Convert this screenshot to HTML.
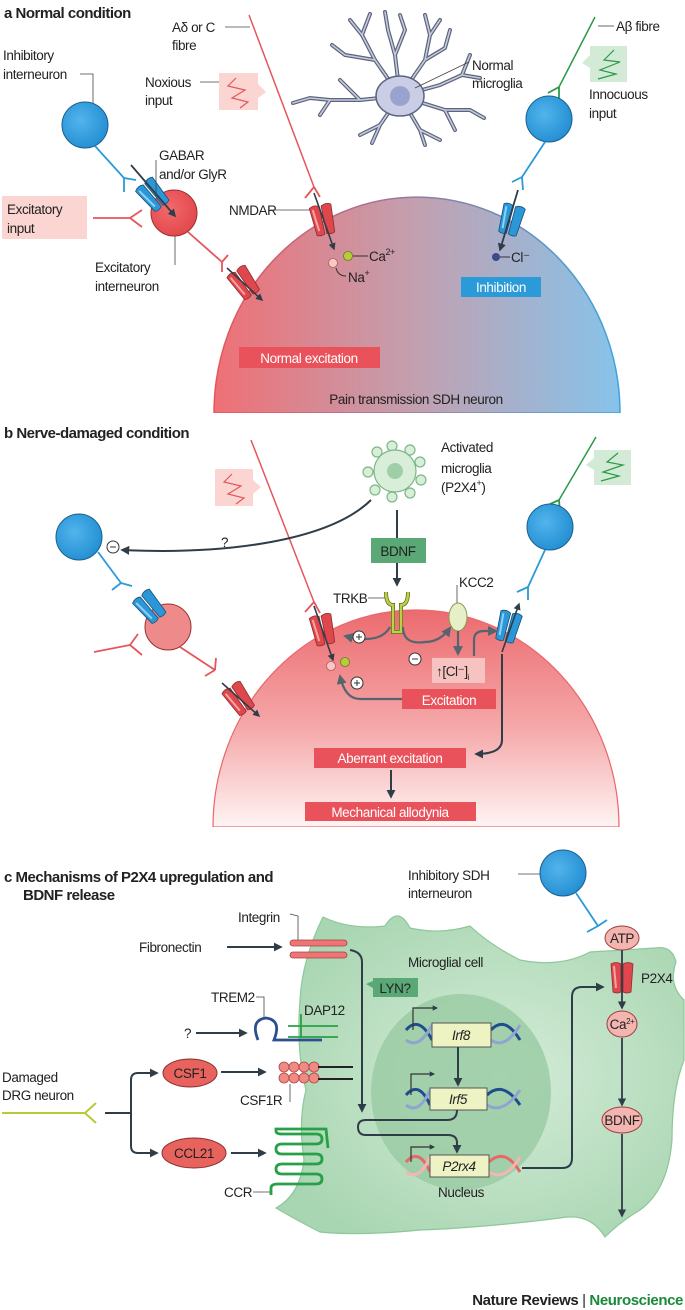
<!DOCTYPE html>
<html><head><meta charset="utf-8"><style>
html,body{margin:0;padding:0;background:#fff;}
svg{display:block;}
text{font-family:"Liberation Sans Narrow","Liberation Sans",sans-serif;font-size:13.5px;letter-spacing:-0.4px;fill:#222;}
.t{font-weight:bold;font-size:15px;letter-spacing:-0.5px;}
.w{fill:#fff;}
</style></head><body>
<svg width="685" height="1310" viewBox="0 0 685 1310" xmlns="http://www.w3.org/2000/svg">
<defs>
<marker id="ah" viewBox="0 0 10 10" refX="8" refY="5" markerWidth="4.5" markerHeight="4.5" orient="auto"><path d="M0,0 L10,5 L0,10 z" fill="#2f3d48"/></marker>
<marker id="ag" viewBox="0 0 10 10" refX="8" refY="5" markerWidth="4.5" markerHeight="4.5" orient="auto"><path d="M0,0 L10,5 L0,10 z" fill="#55656f"/></marker>
<linearGradient id="ga" x1="0" x2="1" y1="0" y2="0"><stop offset="0" stop-color="#ee7075"/><stop offset="0.5" stop-color="#c2a0b0"/><stop offset="1" stop-color="#86c3ea"/></linearGradient>
<linearGradient id="gas" x1="0" x2="1" y1="0" y2="0"><stop offset="0" stop-color="#e5565c"/><stop offset="1" stop-color="#3fa3dd"/></linearGradient>
<linearGradient id="gb" x1="0" x2="0" y1="0" y2="1"><stop offset="0" stop-color="#ec6b6f"/><stop offset="0.55" stop-color="#f5a9aa"/><stop offset="1" stop-color="#fff4f4"/></linearGradient>
<radialGradient id="gc" cx="0.55" cy="0.5" r="0.6"><stop offset="0" stop-color="#d5ecd8"/><stop offset="1" stop-color="#a9d6b2"/></radialGradient>
<radialGradient id="bl" cx="0.4" cy="0.4" r="0.7"><stop offset="0" stop-color="#52b4ec"/><stop offset="1" stop-color="#1e8bd0"/></radialGradient>
<radialGradient id="rd" cx="0.4" cy="0.4" r="0.7"><stop offset="0" stop-color="#f26a6c"/><stop offset="1" stop-color="#e04448"/></radialGradient>
<g id="chR"><path d="M-11,-14 Q-6,-17 -1,-14 L-1,14 Q-5,16 -9,14 Q-10,0 -11,-14z" fill="#e0474c" stroke="#8a2d30" stroke-width="0.8"/><path d="M11,-14 Q6,-17 1,-14 L1,14 Q5,16 9,14 Q10,0 11,-14z" fill="#e0474c" stroke="#8a2d30" stroke-width="0.8"/><path d="M-8,-12 L-6,10" stroke="#f7a3a3" stroke-width="2"/></g>
<g id="chB"><path d="M-11,-14 Q-6,-17 -1,-14 L-1,14 Q-5,16 -9,14 Q-10,0 -11,-14z" fill="#2a98d8" stroke="#1b4f78" stroke-width="0.8"/><path d="M11,-14 Q6,-17 1,-14 L1,14 Q5,16 9,14 Q10,0 11,-14z" fill="#2a98d8" stroke="#1b4f78" stroke-width="0.8"/><path d="M-8,-12 L-6,10" stroke="#8fd0f5" stroke-width="2"/></g>
</defs>

<!-- ===== PANEL A ===== -->
<text x="4" y="18" class="t">a  Normal condition</text>
<path d="M214,413 A203,216 0 0 1 620,413 Z" fill="url(#ga)" stroke="url(#gas)" stroke-width="1.5"/>
<rect x="210" y="413" width="415" height="6" fill="#fff"/>
<text x="416" y="404" text-anchor="middle">Pain transmission SDH neuron</text>
<rect x="239" y="347" width="141" height="21" fill="#e9525a"/>
<text x="309" y="363" text-anchor="middle" class="w">Normal excitation</text>
<rect x="461" y="277" width="80" height="20" fill="#2a9ad8"/>
<text x="501" y="292" text-anchor="middle" class="w">Inhibition</text>

<path d="M249,15 L314,187" stroke="#e5565c" stroke-width="1.5" fill="none"/>
<path d="M314,187 L305,198 M314,187 L320,197" stroke="#e5565c" stroke-width="1.8" fill="none"/>
<text x="172" y="32">Aδ or C</text><text x="172" y="50">fibre</text>
<path d="M225,27 L250,27" stroke="#444" stroke-width="0.8"/>
<rect x="219" y="73" width="39" height="37" fill="#fbd5d2"/><path d="M258,84 L266,92 L258,98z" fill="#fbd5d2"/>
<path d="M236,78 L228,86 L245,90 L232,98 L248,102 L240,108" stroke="#e5565c" stroke-width="1.2" fill="none"/>
<text x="145" y="87">Noxious</text><text x="145" y="105">input</text>
<path d="M200,82 L219,82" stroke="#444" stroke-width="0.8"/>

<g stroke="#5b647c" stroke-width="4" fill="none" stroke-linecap="round">
<path d="M400,96 L375,60 L362,35 L350,20 M362,35 L370,14 M375,60 L345,55 L332,45"/>
<path d="M400,96 L395,55 L388,30 L385,12 M395,55 L405,30 L400,15"/>
<path d="M400,96 L425,60 L430,35 L440,20 M430,35 L425,15 M425,60 L445,48 L450,30"/>
<path d="M400,96 L440,85 L462,75 L470,55 M462,75 L480,78"/>
<path d="M400,96 L445,110 L470,110 L484,118 M445,110 L455,130"/>
<path d="M400,96 L420,130 L425,145 M420,130 L440,140"/>
<path d="M400,96 L380,125 L372,143 M380,125 L360,135"/>
<path d="M400,96 L360,100 L330,100 L310,98 L293,103 M330,100 L320,115 M360,100 L340,80"/>
</g>
<g stroke="#c5cadd" stroke-width="1.6" fill="none" stroke-linecap="round">
<path d="M400,96 L375,60 L362,35 L350,20 M362,35 L370,14 M375,60 L345,55 L332,45"/>
<path d="M400,96 L395,55 L388,30 L385,12 M395,55 L405,30 L400,15"/>
<path d="M400,96 L425,60 L430,35 L440,20 M430,35 L425,15 M425,60 L445,48 L450,30"/>
<path d="M400,96 L440,85 L462,75 L470,55 M462,75 L480,78"/>
<path d="M400,96 L445,110 L470,110 L484,118 M445,110 L455,130"/>
<path d="M400,96 L420,130 L425,145 M420,130 L440,140"/>
<path d="M400,96 L380,125 L372,143 M380,125 L360,135"/>
<path d="M400,96 L360,100 L330,100 L310,98 L293,103 M330,100 L320,115 M360,100 L340,80"/>
</g>
<ellipse cx="400" cy="96" rx="24" ry="20" fill="#c9cde6" stroke="#5b647c" stroke-width="1.5"/>
<circle cx="400" cy="96" r="10" fill="#9aa3cf"/>
<text x="472" y="70">Normal</text><text x="472" y="88">microglia</text>
<path d="M415,88 L469,62" stroke="#444" stroke-width="0.8"/>

<path d="M595,17 L559,87" stroke="#2a9a48" stroke-width="1.5"/>
<path d="M559,87 L548,93 M559,87 L559,99" stroke="#2a9a48" stroke-width="1.8"/>
<text x="616" y="31">Aβ fibre</text><path d="M598,26 L614,26" stroke="#444" stroke-width="0.8"/>
<rect x="590" y="46" width="37" height="36" fill="#d3ebd6"/><path d="M590,55 L582,63 L590,68z" fill="#d3ebd6"/>
<path d="M614,50 L604,60 L620,62 L600,70 L616,74 L598,79" stroke="#2a9a48" stroke-width="1.2" fill="none"/>
<text x="589" y="99">Innocuous</text><text x="589" y="118">input</text>

<circle cx="549" cy="119" r="23" fill="url(#bl)" stroke="#1b5f8f" stroke-width="1"/>
<path d="M545,142 L522,177" stroke="#2a9ad8" stroke-width="1.8"/>
<path d="M522,177 L512,182 M522,177 L523,190" stroke="#2a9ad8" stroke-width="1.8"/>
<use href="#chB" transform="translate(511,220) rotate(15)"/>
<path d="M518,190 L500,250" stroke="#2f3d48" stroke-width="1.8" marker-end="url(#ah)"/>
<circle cx="496" cy="257" r="4" fill="#3a4a8a"/><path d="M500,257 L510,257" stroke="#333"/>
<text x="511" y="262">Cl⁻</text>

<text x="3" y="60">Inhibitory</text><text x="3" y="79">interneuron</text>
<path d="M80,74 L93,74 L93,112" stroke="#444" stroke-width="0.8" fill="none"/>
<circle cx="85" cy="125" r="23" fill="url(#bl)" stroke="#1b5f8f" stroke-width="1"/>
<path d="M95,146 L124,178" stroke="#2a9ad8" stroke-width="1.8"/>
<path d="M124,178 L124,192 M124,178 L136,180" stroke="#2a9ad8" stroke-width="1.8"/>
<circle cx="174" cy="213" r="23" fill="url(#rd)" stroke="#9a3033" stroke-width="1"/>
<use href="#chB" transform="translate(153,195) rotate(-40)"/>
<path d="M131,165 L175,216" stroke="#2f3d48" stroke-width="1.8" marker-end="url(#ah)"/>
<text x="159" y="160">GABAR</text><text x="159" y="179">and/or GlyR</text>
<path d="M156,160 L156,197" stroke="#444" stroke-width="0.8"/>
<rect x="2" y="196" width="85" height="43" fill="#fbd5d2"/>
<text x="7" y="214">Excitatory</text><text x="7" y="233">input</text>
<path d="M93,218 L130,218 M130,218 L142,210 M130,218 L142,227" stroke="#e5565c" stroke-width="1.8" fill="none"/>
<text x="95" y="272">Excitatory</text><text x="95" y="291">interneuron</text>
<path d="M175,236 L175,265" stroke="#444" stroke-width="0.8"/>
<path d="M188,232 L222,262 M222,262 L228,255 M222,262 L222,272" stroke="#e5565c" stroke-width="1.8" fill="none"/>
<use href="#chR" transform="translate(244,283) rotate(-35)"/>
<path d="M227,268 L262,300" stroke="#2f3d48" stroke-width="1.6" marker-end="url(#ah)"/>

<text x="229" y="215">NMDAR</text><path d="M270,210 L311,210" stroke="#444" stroke-width="0.8"/>
<use href="#chR" transform="translate(323,220) rotate(-12)"/>
<path d="M314,193 L334,249" stroke="#2f3d48" stroke-width="1.6" marker-end="url(#ah)"/>
<circle cx="348" cy="256" r="4.5" fill="#b6cc3a" stroke="#6a7a20" stroke-width="0.8"/>
<path d="M353,256 L368,256" stroke="#333"/>
<text x="369" y="261">Ca<tspan font-size="9" dy="-6">2+</tspan></text>
<circle cx="333" cy="263" r="4.5" fill="#f8c8c4" stroke="#b06060" stroke-width="0.8"/>
<path d="M336,268 Q338,276 346,276" stroke="#333" fill="none"/>
<text x="348" y="282">Na<tspan font-size="9" dy="-6">+</tspan></text>

<!-- ===== PANEL B ===== -->
<text x="4" y="438" class="t">b  Nerve-damaged condition</text>
<path d="M213,827 A203,217 0 0 1 619,827 Z" fill="url(#gb)" stroke="#e9676b" stroke-width="1.2"/>
<rect x="210" y="827" width="415" height="6" fill="#fff"/>

<path d="M251,440 L314,602" stroke="#e5565c" stroke-width="1.5"/>
<path d="M314,602 L305,612 M314,602 L320,613" stroke="#e5565c" stroke-width="1.8"/>
<rect x="215" y="469" width="38" height="37" fill="#fbd5d2"/><path d="M253,480 L261,487 L253,494z" fill="#fbd5d2"/>
<path d="M232,474 L224,482 L241,486 L228,494 L244,498 L236,504" stroke="#e5565c" stroke-width="1.2" fill="none"/>

<g fill="#d8eed9" stroke="#7bb885" stroke-width="1.2">
<circle cx="377" cy="452" r="5"/><circle cx="392" cy="446" r="5"/><circle cx="410" cy="450" r="5"/><circle cx="420" cy="462" r="5"/><circle cx="421" cy="480" r="5"/><circle cx="410" cy="493" r="5"/><circle cx="392" cy="497" r="5"/><circle cx="375" cy="490" r="5"/><circle cx="368" cy="472" r="5"/>
<circle cx="395" cy="471" r="21"/></g>
<circle cx="395" cy="471" r="8" fill="#9fcfa6"/>
<text x="441" y="452">Activated</text><text x="441" y="473">microglia</text><text x="441" y="492">(P2X4<tspan font-size="9" dy="-6">+</tspan><tspan dy="6">)</tspan></text>

<path d="M596,437 L559,500" stroke="#2a9a48" stroke-width="1.5"/>
<path d="M559,500 L548,505 M559,500 L560,512" stroke="#2a9a48" stroke-width="1.8"/>
<rect x="594" y="450" width="37" height="35" fill="#d3ebd6"/><path d="M594,458 L586,465 L594,470z" fill="#d3ebd6"/>
<path d="M618,453 L607,462 L623,465 L603,472 L619,476 L601,481" stroke="#2a9a48" stroke-width="1.2" fill="none"/>

<circle cx="550" cy="527" r="23" fill="url(#bl)" stroke="#1b5f8f" stroke-width="1"/>
<path d="M545,550 L528,587 M528,587 L517,592 M528,587 L528,600" stroke="#2a9ad8" stroke-width="1.8" fill="none"/>

<circle cx="79" cy="537" r="23" fill="url(#bl)" stroke="#1b5f8f" stroke-width="1"/>
<circle cx="113" cy="547" r="6" fill="#fff" stroke="#333"/><path d="M110,547 L116,547" stroke="#333"/>
<path d="M98,552 L121,583 M121,583 L112,590 M121,583 L132,586" stroke="#2a9ad8" stroke-width="1.8" fill="none"/>
<path d="M371,500 C330,540 230,555 122,550" stroke="#2f3d48" stroke-width="2" fill="none" marker-end="url(#ah)"/>
<text x="221" y="547">?</text>

<path d="M397,510 L397,538" stroke="#2f3d48" stroke-width="2"/>
<rect x="371" y="538" width="55" height="25" fill="#5aa875"/>
<text x="398" y="556" text-anchor="middle">BDNF</text>
<path d="M397,563 L397,585" stroke="#2f3d48" stroke-width="2" marker-end="url(#ah)"/>

<text x="333" y="603">TRKB</text><path d="M368,598 L385,598" stroke="#444" stroke-width="0.8"/>
<path d="M386,592 Q386,605 393,605 L393,632 L401,632 L401,605 Q408,605 408,592" stroke="#5e6a1c" stroke-width="4" fill="none"/>
<path d="M386,592 Q386,605 393,605 L393,632 L401,632 L401,605 Q408,605 408,592" stroke="#bfcf4a" stroke-width="2.5" fill="none"/>
<text x="459" y="587">KCC2</text><path d="M457,585 L457,604" stroke="#444" stroke-width="0.8"/>
<ellipse cx="458" cy="617" rx="9" ry="14" fill="#e7efc6" stroke="#8a9a50"/>

<use href="#chR" transform="translate(323,630) rotate(-12)"/>
<path d="M314,606 L333,660" stroke="#2f3d48" stroke-width="1.6" marker-end="url(#ah)"/>
<use href="#chB" transform="translate(508,627) rotate(15)"/>
<path d="M502,652 L519,604" stroke="#2f3d48" stroke-width="1.6" marker-end="url(#ah)"/>

<circle cx="331" cy="666" r="4.5" fill="#f8c8c4" stroke="#b06060" stroke-width="0.8"/>
<circle cx="345" cy="662" r="4.5" fill="#b6cc3a" stroke="#6a7a20" stroke-width="0.8"/>

<path d="M390,627 Q380,645 345,636" stroke="#55656f" stroke-width="2.2" fill="none" marker-end="url(#ag)"/>
<circle cx="359" cy="637" r="6" fill="#fff" stroke="#333"/><path d="M356,637 L362,637 M359,634 L359,640" stroke="#333"/>
<path d="M403,627 Q403,645 425,642 Q440,642 450,628" stroke="#55656f" stroke-width="2.2" fill="none" marker-end="url(#ag)"/>
<circle cx="415" cy="659" r="6" fill="#fff" stroke="#333"/><path d="M412,659 L418,659" stroke="#333"/>
<path d="M458,631 L458,654" stroke="#55656f" stroke-width="2.2" marker-end="url(#ag)"/>
<rect x="432" y="658" width="53" height="25" fill="#f7c3c1"/>
<text x="436" y="676">↑[Cl⁻]<tspan font-size="8" dy="4">i</tspan></text>
<path d="M474,656 L474,640 Q474,631 484,631 L496,631" stroke="#55656f" stroke-width="2.2" fill="none" marker-end="url(#ag)"/>
<rect x="402" y="689" width="94" height="20" fill="#e9525a"/>
<text x="449" y="705" text-anchor="middle" class="w">Excitation</text>
<path d="M402,699 L360,699 Q345,699 340,676" stroke="#55656f" stroke-width="2.2" fill="none" marker-end="url(#ag)"/>
<circle cx="357" cy="683" r="6" fill="#fff" stroke="#333"/><path d="M354,683 L360,683 M357,680 L357,686" stroke="#333"/>

<path d="M502,654 L502,740 Q502,754 476,754" stroke="#2f3d48" stroke-width="2" fill="none" marker-end="url(#ah)"/>
<rect x="314" y="748" width="152" height="20" fill="#e9525a"/>
<text x="390" y="763" text-anchor="middle" class="w">Aberrant excitation</text>
<path d="M391,770 L391,797" stroke="#2f3d48" stroke-width="2" marker-end="url(#ah)"/>
<rect x="305" y="802" width="171" height="19" fill="#e9525a"/>
<text x="390" y="817" text-anchor="middle" class="w">Mechanical allodynia</text>

<circle cx="168" cy="627" r="23" fill="#ef8a8b" stroke="#9a3033" stroke-width="1"/>
<use href="#chB" transform="translate(150,607) rotate(-40)"/>
<path d="M94,652 L130,645 M130,645 L138,634 M130,645 L142,655" stroke="#e5565c" stroke-width="1.8" fill="none"/>
<path d="M180,647 L215,670 M215,670 L216,658 M215,670 L205,676" stroke="#e5565c" stroke-width="1.8" fill="none"/>
<use href="#chR" transform="translate(239,699) rotate(-35)"/>
<path d="M222,683 L259,716" stroke="#2f3d48" stroke-width="1.6" marker-end="url(#ah)"/>

<!-- ===== PANEL C ===== -->
<text x="4" y="882" class="t">c  Mechanisms of P2X4 upregulation and</text>
<text x="23" y="900" class="t">BDNF release</text>

<path d="M323,917 Q350,930 385,926 Q398,905 410,928 Q440,935 470,926 Q490,945 520,960 Q560,968 590,952 L655,948 Q672,945 676,962 Q668,985 684,1000 L684,1060 Q672,1090 672,1140 Q668,1190 640,1210 Q620,1222 605,1237 Q590,1212 560,1218 Q480,1228 420,1230 Q360,1236 320,1232 Q300,1222 276,1208 Q300,1195 304,1160 Q298,1120 306,1090 Q296,1050 300,1000 Q302,960 323,917 Z" fill="url(#gc)" stroke="#8dc79a" stroke-width="1.2"/>
<ellipse cx="461" cy="1092" rx="90" ry="98" fill="#98cba3" opacity="0.8"/>
<text x="408" y="967">Microglial cell</text>

<text x="408" y="880">Inhibitory SDH</text><text x="408" y="898">interneuron</text>
<path d="M518,874 L540,874" stroke="#444" stroke-width="0.8"/>
<circle cx="563" cy="873" r="23" fill="url(#bl)" stroke="#1b5f8f" stroke-width="1"/>
<path d="M576,893 L598,926 M598,926 L587,932 M598,926 L607,920" stroke="#2a9ad8" stroke-width="1.8" fill="none"/>
<ellipse cx="622" cy="938" rx="17" ry="12" fill="#f4b4b0" stroke="#9a4040"/>
<text x="622" y="943" text-anchor="middle">ATP</text>
<use href="#chR" transform="translate(622,978)"/>
<text x="641" y="983">P2X4</text>
<path d="M622,950 L622,1008" stroke="#2f3d48" stroke-width="1.8" marker-end="url(#ah)"/>
<ellipse cx="622" cy="1024" rx="15" ry="13" fill="#f4b4b0" stroke="#9a4040"/>
<text x="622" y="1029" text-anchor="middle">Ca<tspan font-size="8" dy="-5">2+</tspan></text>
<path d="M622,1038 L622,1105" stroke="#2f3d48" stroke-width="1.8" marker-end="url(#ah)"/>
<ellipse cx="622" cy="1120" rx="20" ry="13" fill="#f4b4b0" stroke="#9a4040"/>
<text x="622" y="1125" text-anchor="middle">BDNF</text>
<path d="M622,1134 L622,1216" stroke="#2f3d48" stroke-width="1.8" marker-end="url(#ah)"/>

<text x="238" y="922">Integrin</text><path d="M290,914 L298,916 L298,942" stroke="#444" stroke-width="0.8" fill="none"/>
<text x="139" y="952">Fibronectin</text>
<path d="M227,947 L281,947" stroke="#2f3d48" stroke-width="2" marker-end="url(#ah)"/>
<rect x="290" y="940" width="57" height="6" rx="3" fill="#ee7575" stroke="#a84040" stroke-width="0.8"/>
<rect x="290" y="952" width="57" height="6" rx="3" fill="#ee7575" stroke="#a84040" stroke-width="0.8"/>
<path d="M350,950 Q362,952 362,962 L362,1111" stroke="#2f3d48" stroke-width="2" fill="none" marker-end="url(#ah)"/>
<rect x="373" y="978" width="45" height="19" fill="#5aa875"/><path d="M373,981 L366,984 L373,988z" fill="#5aa875"/>
<text x="395" y="993" text-anchor="middle">LYN?</text>

<text x="211" y="1002">TREM2</text><path d="M256,997 L264,997 L264,1017" stroke="#444" stroke-width="0.8" fill="none"/>
<text x="304" y="1015">DAP12</text>
<text x="184" y="1038">?</text>
<path d="M196,1033 L246,1033" stroke="#2f3d48" stroke-width="2" marker-end="url(#ah)"/>
<path d="M258,1040 Q250,1020 266,1018 Q282,1020 274,1040 L322,1040" stroke="#2c4f8f" stroke-width="2.8" fill="none"/>
<path d="M288,1026 L338,1026 M288,1037 L338,1037 M301,1014 L301,1038" stroke="#27a048" stroke-width="1.8" fill="none"/>

<text x="2" y="1082">Damaged</text><text x="2" y="1100">DRG neuron</text>
<path d="M2,1113 L85,1113 L96,1103 M85,1113 L96,1123" stroke="#b9c93a" stroke-width="2" fill="none"/>
<path d="M105,1113 L131,1113 M131,1080 Q131,1073 138,1073 L156,1073 M131,1080 L131,1146 Q131,1153 138,1153 L156,1153" stroke="#2f3d48" stroke-width="2" fill="none"/>
<path d="M150,1073 L157,1073" stroke="#2f3d48" stroke-width="2" marker-end="url(#ah)"/>
<path d="M150,1153 L157,1153" stroke="#2f3d48" stroke-width="2" marker-end="url(#ah)"/>
<ellipse cx="190" cy="1073" rx="27" ry="14" fill="#e8635e" stroke="#8a3030"/>
<text x="190" y="1078" text-anchor="middle">CSF1</text>
<path d="M221,1072 L265,1072" stroke="#2f3d48" stroke-width="2" marker-end="url(#ah)"/>
<g fill="#f08a85" stroke="#b04545" stroke-width="0.8">
<circle cx="284" cy="1067" r="5"/><circle cx="294" cy="1067" r="5"/><circle cx="304" cy="1067" r="5"/><circle cx="314" cy="1067" r="5"/>
<circle cx="284" cy="1078" r="5"/><circle cx="294" cy="1078" r="5"/><circle cx="304" cy="1078" r="5"/><circle cx="314" cy="1078" r="5"/></g>
<path d="M318,1067 L353,1067 M318,1079 L353,1079" stroke="#222" stroke-width="2"/>
<text x="240" y="1105">CSF1R</text><path d="M290,1084 L290,1102" stroke="#444" stroke-width="0.8"/>

<ellipse cx="194" cy="1153" rx="32" ry="15" fill="#e8635e" stroke="#8a3030"/>
<text x="194" y="1158" text-anchor="middle">CCL21</text>
<path d="M231,1153 L265,1153" stroke="#2f3d48" stroke-width="2" marker-end="url(#ah)"/>
<path d="M271,1195 L271,1188 Q271,1184 278,1184 L316,1184 Q322,1184 322,1179 Q322,1174 316,1174 L282,1174 Q276,1174 276,1169 Q276,1164 282,1164 L316,1164 Q322,1164 322,1159 Q322,1154 316,1154 L282,1154 Q276,1154 276,1149 Q276,1144 282,1144 L316,1144 Q322,1144 322,1139 Q322,1134 316,1134 L282,1134 Q276,1134 276,1131 L276,1129 L326,1129 L328,1148" stroke="#27a048" stroke-width="2.8" fill="none"/>
<text x="224" y="1197">CCR</text><path d="M253,1192 L270,1192" stroke="#444" stroke-width="0.8"/>

<g stroke-width="3" fill="none">
<path d="M406,1030 Q419,1015 432,1040" stroke="#1f4e8c"/><path d="M406,1040 Q419,1050 432,1025" stroke="#8ea6cf"/>
<path d="M491,1030 Q505,1015 520,1040" stroke="#1f4e8c"/><path d="M491,1040 Q505,1050 520,1025" stroke="#8ea6cf"/>
<path d="M406,1095 Q419,1080 430,1105" stroke="#1f4e8c"/><path d="M406,1105 Q419,1115 430,1090" stroke="#8ea6cf"/>
<path d="M487,1095 Q503,1080 520,1105" stroke="#1f4e8c"/><path d="M487,1105 Q503,1115 520,1090" stroke="#8ea6cf"/>
<path d="M406,1162 Q419,1147 430,1172" stroke="#e86868"/><path d="M406,1172 Q419,1182 430,1157" stroke="#f5b5b2"/>
<path d="M489,1162 Q505,1147 520,1172" stroke="#e86868"/><path d="M489,1172 Q505,1182 520,1157" stroke="#f5b5b2"/>
</g>
<rect x="432" y="1023" width="59" height="24" fill="#eef3c4" stroke="#555"/>
<text x="461" y="1040" text-anchor="middle" font-style="italic">Irf8</text>
<rect x="430" y="1088" width="57" height="22" fill="#eef3c4" stroke="#555"/>
<text x="458" y="1104" text-anchor="middle" font-style="italic">Irf5</text>
<rect x="430" y="1155" width="59" height="22" fill="#eef3c4" stroke="#555"/>
<text x="459" y="1171" text-anchor="middle" font-style="italic">P2rx4</text>
<text x="461" y="1197" text-anchor="middle">Nucleus</text>
<path d="M413,1030 L413,1008 L437,1008" stroke="#333" stroke-width="1.2" fill="none" marker-end="url(#ah)"/>
<path d="M411,1095 L411,1074 L434,1074" stroke="#333" stroke-width="1.2" fill="none" marker-end="url(#ah)"/>
<path d="M411,1162 L411,1147 L434,1147" stroke="#333" stroke-width="1.2" fill="none" marker-end="url(#ah)"/>
<path d="M458,1047 L458,1085" stroke="#2f3d48" stroke-width="2" marker-end="url(#ah)"/>
<path d="M457,1110 Q457,1120 447,1120 L366,1120 Q358,1120 358,1127 Q358,1135 366,1135 L448,1135 Q457,1135 457,1143 L457,1152" stroke="#2f3d48" stroke-width="2" fill="none" marker-end="url(#ah)"/>
<path d="M522,1168 L562,1168 Q572,1168 572,1158 L572,997 Q572,987 582,987 L603,987" stroke="#2f3d48" stroke-width="2" fill="none" marker-end="url(#ah)"/>

<text x="683" y="1305" text-anchor="end" style="font-weight:bold;font-size:15px"><tspan fill="#222">Nature Reviews</tspan><tspan fill="#222" font-weight="normal"> | </tspan><tspan fill="#1a8a3a">Neuroscience</tspan></text>
</svg>
</body></html>
